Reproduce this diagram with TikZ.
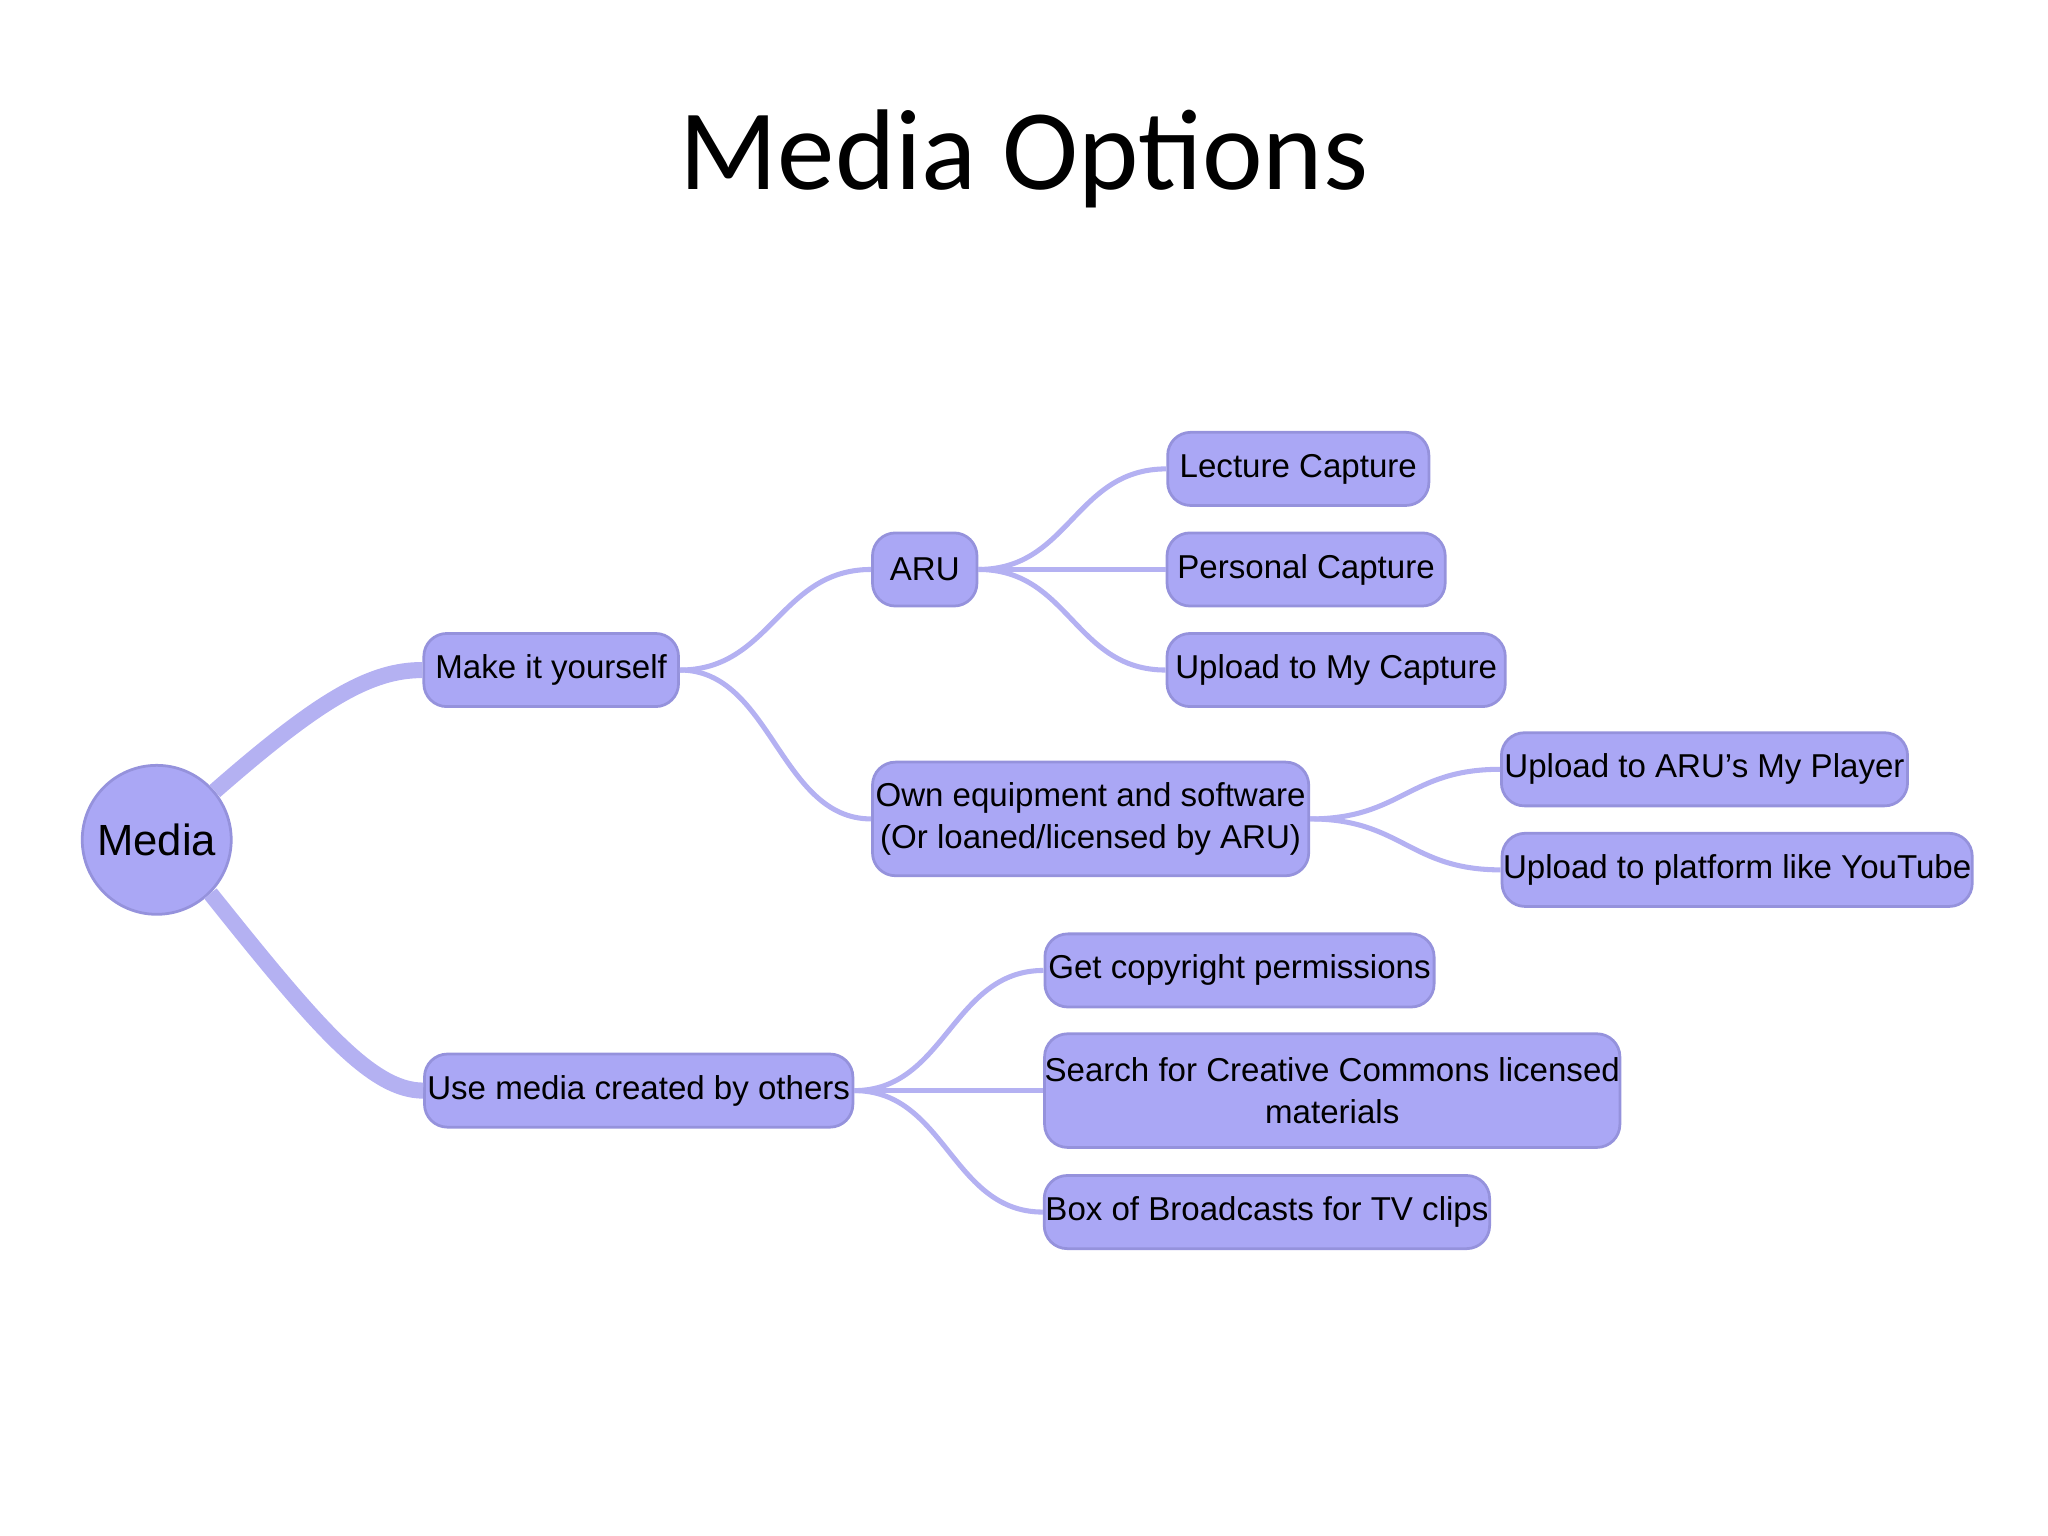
\documentclass[tikz,border=0pt]{standalone}
\usepackage{fontspec}
\setmainfont{Liberation Sans}
\newfontfamily\titlefont{Carlito}
\definecolor{nfill}{HTML}{AAA7F5}
\definecolor{nline}{HTML}{9592DC}
\definecolor{eline}{HTML}{B4B1F2}
\begin{document}
\begin{tikzpicture}[x=0.01cm,y=-0.01cm,
  box/.style={draw=nline,line width=0.6pt,fill=nfill,rounded corners=5pt,font=\fontsize{7.2}{9}\selectfont,align=center,inner sep=0pt},
  edge/.style={draw=eline,line width=1.1pt},
  thick edge/.style={draw=eline,line width=3.5pt}]
\useasboundingbox (0,0) rectangle (1568,1176);
\node[font=\titlefont\fontsize{25}{30}\selectfont] (title) at (784,122) {Media Options};
\node[circle,draw=nline,line width=0.6pt,fill=nfill,minimum size=1.14cm,inner sep=0pt,font=\fontsize{9.5}{11}\selectfont] (media) at (120,643) {Media};
\newcommand\bx[6]{\node[box,minimum width=#4*0.01cm,minimum height=#5*0.01cm] (#1) at (#2,#3) {#6};}
\bx{make}{422}{513}{195}{56}{Make it yourself}
\bx{aru}{708}{436}{80}{56}{ARU}
\bx{lec}{994}{359}{200}{56}{Lecture Capture}
\bx{pers}{1000}{436}{213}{56}{Personal Capture}
\bx{upmy}{1023}{513}{259}{56}{Upload to My Capture}
\bx{own}{835}{627}{334}{87}{Own equipment and software\\(Or loaned/licensed by ARU)}
\bx{player}{1305}{589}{311}{56}{Upload to ARU's My Player}
\bx{yt}{1330}{666}{360}{56}{Upload to platform like YouTube}
\bx{use}{489}{835}{328}{56}{Use media created by others}
\bx{copy}{949}{743}{298}{56}{Get copyright permissions}
\bx{cc}{1020}{835}{440}{87}{Search for Creative Commons licensed\\materials}
\bx{box}{970}{928}{341}{56}{Box of Broadcasts for TV clips}
\begin{scope}[on background layer/.try]
\end{scope}
\draw[thick edge] (media.40) .. controls +(80,-70) and +(-40,0) .. (make.west);
\draw[thick edge] (media.-45) .. controls +(80,100) and +(-40,0) .. (use.west);
\foreach \a/\b in {make/aru,make/own,aru/lec,aru/pers,aru/upmy,own/player,own/yt,use/copy,use/cc,use/box}
  \draw[edge] (\a.east) .. controls +(70,0) and +(-70,0) .. (\b.west);
\end{tikzpicture}
\end{document}
